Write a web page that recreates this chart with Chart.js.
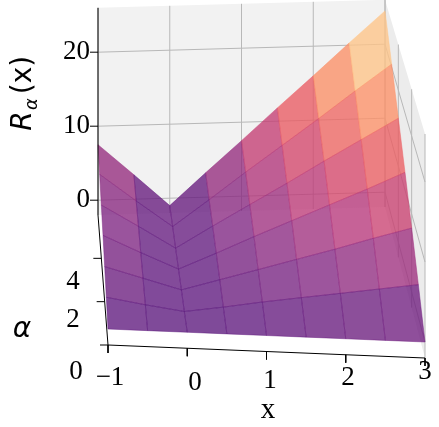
<!DOCTYPE html>
<html>
<head>
<meta charset="utf-8">
<script src="https://cdn.jsdelivr.net/npm/chart.js@4"></script>
<style>
  html, body { margin: 0; padding: 0; background: #fff; }
  #wrap { width: 439px; height: 427px; }
</style>
</head>
<body>
<div id="wrap"><canvas id="surf" width="439" height="427"></canvas></div>
<script>
// Surface samples
const xValues = [-1, -0.5, 0, 0.5, 1, 1.5, 2, 2.5, 3];
const alphaValues = [0, 1, 2, 3, 4, 5, 6];
const rRow0 = [0, 0, 0, 0, 0, 0, 0, 0, 0];
const rRow1 = [1.3, 0.5, -0.2, 0.5, 1.3, 2.0, 2.7, 3.4, 4.1];
const rRow2 = [2.5, 1.1, -0.3, 1.1, 2.5, 3.9, 5.3, 6.8, 8.2];
const rRow3 = [3.8, 1.6, -0.5, 1.6, 3.8, 5.9, 8.0, 10.1, 12.3];
const rRow4 = [5.0, 2.2, -0.7, 2.2, 5.0, 7.8, 10.7, 13.5, 16.3];
const rRow5 = [6.3, 2.7, -0.8, 2.7, 6.3, 9.8, 13.3, 16.9, 20.4];
const rRow6 = [7.5, 3.3, -1.0, 3.3, 7.5, 11.8, 16.0, 20.3, 24.5];
const rRows = [rRow0, rRow1, rRow2, rRow3, rRow4, rRow5, rRow6];

const xTicks = [-1, 0, 1, 2, 3];
const alphaTicks = [0, 2, 4];
const zTicks = [0, 10, 20];

// view box
const X0 = -1, X1 = 3, A0 = 0, A1 = 6, Z0 = -2, Z1 = 26;
const ZMIN = -1, ZMAX = 24.5;

// projection: base plane (z = Z0) by bilinear corners, z lifts upward
const FL = [108, 345], FR = [425, 358], BL = [98, 215], BR = [385, 207];
function proj(x, a, z) {
  const u = (x - X0) / (X1 - X0), v = (a - A0) / (A1 - A0);
  const px = (1 - v) * ((1 - u) * FL[0] + u * FR[0]) + v * ((1 - u) * BL[0] + u * BR[0]);
  const py = (1 - v) * ((1 - u) * FL[1] + u * FR[1]) + v * ((1 - u) * BL[1] + u * BR[1]);
  const k = 8 + (7.4 - 8) * v;
  return { x: px, y: py - (z - Z0) * k };
}

const magma = [
  [0, 0, 0, 4], [0.13, 28, 16, 68], [0.25, 79, 18, 123], [0.38, 129, 37, 129],
  [0.5, 181, 54, 122], [0.63, 229, 80, 100], [0.75, 251, 135, 97],
  [0.88, 254, 194, 135], [1, 252, 253, 191]
];
function magmaColor(t, alpha) {
  t = Math.max(0, Math.min(1, t));
  for (let i = 1; i < magma.length; i++) {
    if (t <= magma[i][0]) {
      const a = magma[i - 1], b = magma[i];
      const f = (t - a[0]) / (b[0] - a[0]);
      const c = [1, 2, 3].map(j => Math.round(a[j] + f * (b[j] - a[j])));
      return `rgba(${c[0]},${c[1]},${c[2]},${alpha})`;
    }
  }
}

const datasets = [];
function poly(points, fillColor, lineColor, width) {
  datasets.push({
    type: "line",
    data: points,
    showLine: true,
    fill: fillColor ? "shape" : false,
    backgroundColor: fillColor || "transparent",
    borderColor: lineColor || "transparent",
    borderWidth: width || 0,
    pointRadius: 0,
    tension: 0,
    order: -datasets.length // later datasets are painted on top
  });
}

// panes
poly([proj(X0, A1, Z0), proj(X1, A1, Z0), proj(X1, A1, Z1), proj(X0, A1, Z1), proj(X0, A1, Z0)], "#f2f2f2");
poly([proj(X1, A0, Z0), proj(X1, A1, Z0), proj(X1, A1, Z1), proj(X1, A0, Z1), proj(X1, A0, Z0)], "#ececec");
const gridCol = "#b8b8b8";
xTicks.forEach(x => poly([proj(x, A1, Z0), proj(x, A1, Z1)], null, gridCol, 1));
zTicks.forEach(z => {
  poly([proj(X0, A1, z), proj(X1, A1, z), proj(X1, A0, z)], null, gridCol, 1);
});
[0, 2, 4, 6].forEach(a => poly([proj(X1, a, Z0), proj(X1, a, Z1)], null, gridCol, 1));

// surface quads, back to front
for (let j = alphaValues.length - 2; j >= 0; j--) {
  for (let i = 0; i < xValues.length - 1; i++) {
    const x0 = xValues[i], x1 = xValues[i + 1], a0 = alphaValues[j], a1 = alphaValues[j + 1];
    const z00 = rRows[j][i], z10 = rRows[j][i + 1], z01 = rRows[j + 1][i], z11 = rRows[j + 1][i + 1];
    const zm = (z00 + z10 + z01 + z11) / 4;
    const col = magmaColor(0.25 + 0.75 * (zm - ZMIN) / (ZMAX - ZMIN), 0.78);
    poly([proj(x0, a0, z00), proj(x1, a0, z10), proj(x1, a1, z11), proj(x0, a1, z01), proj(x0, a0, z00)], col, col, 0.6);
  }
}

// axis lines and tick marks
poly([proj(X0, A0, Z0), proj(X1, A0, Z0)], null, "#000", 1);
poly([proj(X0, A0, Z0), proj(X0, A1, Z0)], null, "#000", 1);
poly([proj(X0, A1, Z0), proj(X0, A1, Z1)], null, "#000", 1);
xTicks.forEach(x => {
  const p = proj(x, A0, Z0);
  poly([p, { x: p.x, y: p.y + 8 }], null, "#000", 1);
});
alphaTicks.forEach(a => {
  const p = proj(X0, a, Z0);
  poly([p, { x: p.x - 8, y: p.y }], null, "#000", 1);
});
zTicks.forEach(z => {
  const p = proj(X0, A1, z);
  poly([p, { x: p.x - 8, y: p.y }], null, "#000", 1);
});

const labelPlugin = {
  id: "labels",
  afterDraw(chart) {
    const ctx = chart.ctx;
    ctx.save();
    ctx.fillStyle = "#000";
    ctx.textAlign = "center";
    ctx.textBaseline = "middle";
    ctx.font = "27px 'Liberation Serif'";
    const xPos = [[110, 378], [195, 383], [270, 381], [348, 378], [425, 372]];
    xTicks.forEach((t, i) => ctx.fillText(t < 0 ? "\u2212" + Math.abs(t) : String(t), xPos[i][0], xPos[i][1]));
    const aPos = [[76, 372], [73, 320], [73, 282]];
    alphaTicks.forEach((t, i) => ctx.fillText(String(t), aPos[i][0], aPos[i][1]));
    ctx.textAlign = "right";
    zTicks.forEach(t => {
      const p = proj(X0, A1, t);
      ctx.fillText(String(t), p.x - 8, p.y);
    });
    ctx.textAlign = "center";
    ctx.font = "29px 'Liberation Serif'";
    ctx.fillText("x", 268, 410);
    ctx.font = "italic 28px 'DejaVu Sans'";
    ctx.fillText("\u03b1", 22, 330);
    ctx.translate(24, 95);
    ctx.rotate(-Math.PI / 2);
    ctx.font = "italic 28px 'DejaVu Sans'";
    ctx.fillText("R", -26, 0);
    ctx.font = "italic 18px 'DejaVu Sans'";
    ctx.fillText("\u03b1", -9, 8);
    ctx.font = "28px 'DejaVu Sans'";
    ctx.fillText("(x)", 20, 0);
    ctx.restore();
  }
};

new Chart(document.getElementById("surf").getContext("2d"), {
  type: "scatter",
  data: { datasets },
  options: {
    responsive: false,
    animation: false,
    layout: { padding: 0 },
    plugins: { legend: { display: false }, tooltip: { enabled: false } },
    scales: {
      x: { type: "linear", min: 0, max: 439, display: false },
      y: { type: "linear", min: 0, max: 427, reverse: true, display: false }
    }
  },
  plugins: [labelPlugin]
});
</script>
</body>
</html>
